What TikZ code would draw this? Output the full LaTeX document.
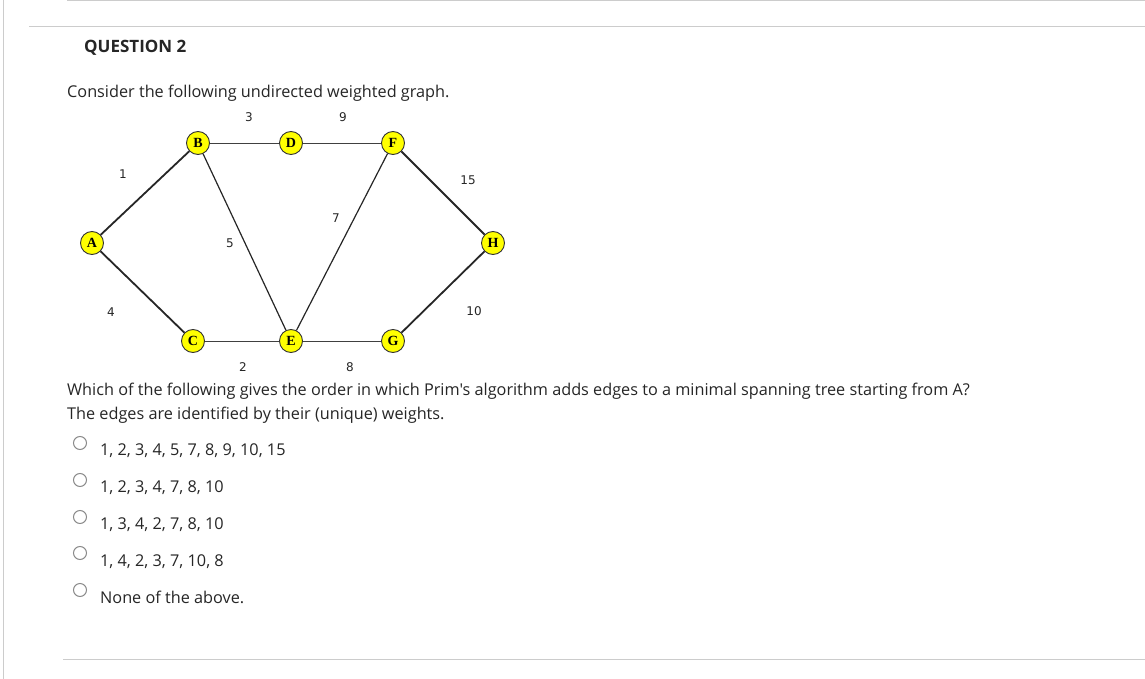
\documentclass[tikz,border=0pt]{standalone}
\usepackage{fontspec}
\setmainfont{Open Sans}[Ligatures=TeXOff]
\newfontfamily\lblfont{DejaVu Sans}
\newfontfamily\vtxfont{Liberation Serif}
\definecolor{txt}{HTML}{262626}
\definecolor{rule}{HTML}{CCCCCC}
\definecolor{vfill}{HTML}{FFFF00}
\definecolor{radio}{HTML}{8A8A8A}
\begin{document}
\begin{tikzpicture}[x=1pt,y=-1pt,
  vtx/.style={circle,draw=black!80,line width=0.9pt,fill=vfill,minimum size=23pt,inner sep=0pt,font=\vtxfont\bfseries\fontsize{14}{14}\selectfont},
  wlbl/.style={font=\lblfont\fontsize{12}{12}\selectfont,text=black!85,inner sep=0pt},
  thick edge/.style={line width=1.8pt,draw=black!85},
  thin edge/.style={line width=0.9pt,draw=black!75},
  mid edge/.style={line width=1.2pt,draw=black!85},
  body/.style={anchor=base west,inner sep=0pt,text=txt,font=\fontsize{16.25}{19}\selectfont},
  radiobtn/.style={circle,draw=radio,line width=1pt,minimum size=13pt,inner sep=0pt}
]
\useasboundingbox (0,0) rectangle (1145,679);
\fill[white] (0,0) rectangle (1145,679);
% page rules
\draw[rule,line width=1pt] (3,0) -- (3,679);
\draw[rule,line width=1pt] (67,1) -- (1145,1);
\draw[rule,line width=1pt] (29,27) -- (1145,27);
\draw[rule,line width=1pt] (63,659) -- (1145,659);
% texts
\node[body,font=\bfseries\fontsize{17}{20}\selectfont] (q) at (84,53) {QUESTION 2};
\node[body] (intro) at (67,98) {Consider the following undirected weighted graph.};
\node[body] (which) at (67,395) {Which of the following gives the order in which Prim's algorithm adds edges to a minimal spanning tree starting from A?};
\node[body] (edges) at (67,419) {The edges are identified by their (unique) weights.};
% graph
\node[vtx] (A) at (92,243) {A};
\node[vtx] (B) at (198,143) {B};
\node[vtx] (C) at (193,341) {C};
\node[vtx] (D) at (291,143) {D};
\node[vtx] (E) at (291,341) {E};
\node[vtx] (F) at (393,143) {F};
\node[vtx] (G) at (393,341) {G};
\node[vtx] (H) at (493,243) {H};
\draw[thick edge] (A) -- (B);
\draw[thick edge] (A) -- (C);
\draw[thick edge] (F) -- (H);
\draw[thick edge] (G) -- (H);
\draw[thin edge] (B) -- (D);
\draw[thin edge] (D) -- (F);
\draw[thin edge] (C) -- (E);
\draw[thin edge] (E) -- (G);
\draw[mid edge] (B) -- (E);
\draw[mid edge] (E) -- (F);
% weights
\node[wlbl] (w3) at (249,117) {3};
\node[wlbl] (w9) at (343,117) {9};
\node[wlbl] (w1) at (123,174) {1};
\node[wlbl] (w15) at (468,180) {15};
\node[wlbl] (w7) at (336,218) {7};
\node[wlbl] (w5) at (230,243) {5};
\node[wlbl] (w4) at (111,312) {4};
\node[wlbl] (w10) at (474,311) {10};
\node[wlbl] (w2) at (243,367) {2};
\node[wlbl] (w8) at (350,367) {8};
% options
\node[radiobtn] (r1) at (80,443) {};
\node[radiobtn] (r2) at (80,480) {};
\node[radiobtn] (r3) at (80,517) {};
\node[radiobtn] (r4) at (80,553) {};
\node[radiobtn] (r5) at (80,590) {};
\node[body] (o1) at (100,455) {1, 2, 3, 4, 5, 7, 8, 9, 10, 15};
\node[body] (o2) at (100,492) {1, 2, 3, 4, 7, 8, 10};
\node[body] (o3) at (100,529) {1, 3, 4, 2, 7, 8, 10};
\node[body] (o4) at (100,566) {1, 4, 2, 3, 7, 10, 8};
\node[body] (o5) at (100,603) {None of the above.};
\end{tikzpicture}
\end{document}
